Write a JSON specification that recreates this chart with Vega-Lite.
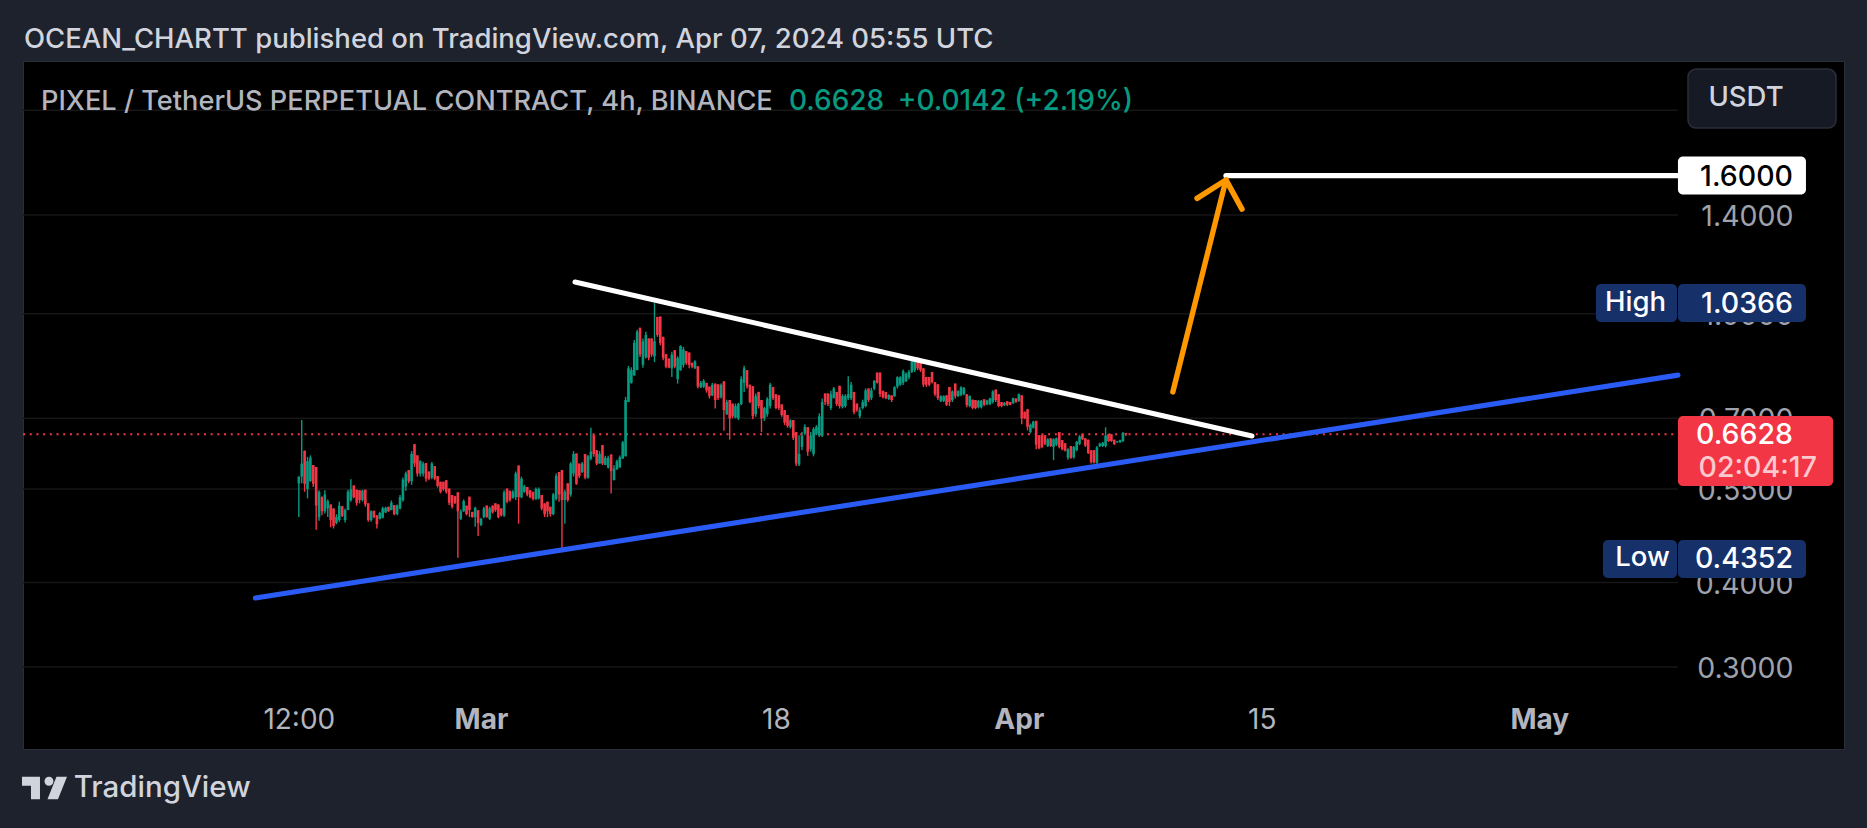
{"$schema":"https://vega.github.io/schema/vega-lite/v6.json","width":1821,"height":688,"autosize":"none","padding":{"left":23,"top":61,"right":23,"bottom":79},"background":"#1e222d","config":{"view":{"fill":"#000000","stroke":"#2a2e39"},"scale":{"continuousPadding":0},"text":{"font":"Inter"}},"title":{"text":"OCEAN_CHARTT published on TradingView.com, Apr 07, 2024 05:55 UTC","anchor":"start","frame":"group","offset":8,"dx":1,"font":"Inter","fontSize":27.5,"fontWeight":500,"color":"#d1d4dc"},"data":{"values":[
{"t":"2024-02-19T12:00Z","o":0.561,"h":0.574,"l":0.5,"c":0.574},{"t":"2024-02-19T16:00Z","o":0.574,"h":0.696,"l":0.561,"c":0.6},{"t":"2024-02-19T20:00Z","o":0.627,"h":0.627,"l":0.545,"c":0.56},
{"t":"2024-02-20T00:00Z","o":0.55,"h":0.614,"l":0.533,"c":0.605},{"t":"2024-02-20T04:00Z","o":0.565,"h":0.617,"l":0.564,"c":0.612},{"t":"2024-02-20T08:00Z","o":0.597,"h":0.597,"l":0.554,"c":0.56},{"t":"2024-02-20T12:00Z","o":0.593,"h":0.593,"l":0.479,"c":0.52},{"t":"2024-02-20T16:00Z","o":0.5,"h":0.548,"l":0.494,"c":0.545},{"t":"2024-02-20T20:00Z","o":0.535,"h":0.537,"l":0.503,"c":0.51},
{"t":"2024-02-21T00:00Z","o":0.51,"h":0.548,"l":0.506,"c":0.54},{"t":"2024-02-21T04:00Z","o":0.515,"h":0.531,"l":0.5,"c":0.528},{"t":"2024-02-21T08:00Z","o":0.522,"h":0.522,"l":0.483,"c":0.495},{"t":"2024-02-21T12:00Z","o":0.515,"h":0.515,"l":0.481,"c":0.485},{"t":"2024-02-21T16:00Z","o":0.49,"h":0.505,"l":0.488,"c":0.5},{"t":"2024-02-21T20:00Z","o":0.495,"h":0.527,"l":0.492,"c":0.52},
{"t":"2024-02-22T00:00Z","o":0.519,"h":0.519,"l":0.5,"c":0.502},{"t":"2024-02-22T04:00Z","o":0.495,"h":0.515,"l":0.491,"c":0.512},{"t":"2024-02-22T08:00Z","o":0.512,"h":0.549,"l":0.513,"c":0.545},{"t":"2024-02-22T12:00Z","o":0.53,"h":0.569,"l":0.527,"c":0.55},{"t":"2024-02-22T16:00Z","o":0.557,"h":0.557,"l":0.533,"c":0.535},{"t":"2024-02-22T20:00Z","o":0.549,"h":0.549,"l":0.52,"c":0.525},
{"t":"2024-02-23T00:00Z","o":0.548,"h":0.548,"l":0.524,"c":0.53},{"t":"2024-02-23T04:00Z","o":0.53,"h":0.549,"l":0.527,"c":0.547},{"t":"2024-02-23T08:00Z","o":0.549,"h":0.549,"l":0.518,"c":0.522},{"t":"2024-02-23T12:00Z","o":0.524,"h":0.524,"l":0.492,"c":0.495},{"t":"2024-02-23T16:00Z","o":0.495,"h":0.512,"l":0.492,"c":0.51},{"t":"2024-02-23T20:00Z","o":0.511,"h":0.511,"l":0.498,"c":0.5},
{"t":"2024-02-24T00:00Z","o":0.503,"h":0.503,"l":0.481,"c":0.488},{"t":"2024-02-24T04:00Z","o":0.497,"h":0.509,"l":0.496,"c":0.507},{"t":"2024-02-24T08:00Z","o":0.499,"h":0.518,"l":0.498,"c":0.515},{"t":"2024-02-24T12:00Z","o":0.508,"h":0.518,"l":0.507,"c":0.516},{"t":"2024-02-24T16:00Z","o":0.518,"h":0.518,"l":0.509,"c":0.51},{"t":"2024-02-24T20:00Z","o":0.512,"h":0.529,"l":0.512,"c":0.525},
{"t":"2024-02-25T00:00Z","o":0.521,"h":0.521,"l":0.503,"c":0.505},{"t":"2024-02-25T04:00Z","o":0.505,"h":0.522,"l":0.503,"c":0.52},{"t":"2024-02-25T08:00Z","o":0.515,"h":0.539,"l":0.513,"c":0.535},{"t":"2024-02-25T12:00Z","o":0.53,"h":0.572,"l":0.527,"c":0.568},{"t":"2024-02-25T16:00Z","o":0.555,"h":0.584,"l":0.547,"c":0.58},{"t":"2024-02-25T20:00Z","o":0.587,"h":0.587,"l":0.561,"c":0.565},
{"t":"2024-02-26T00:00Z","o":0.565,"h":0.626,"l":0.558,"c":0.62},{"t":"2024-02-26T04:00Z","o":0.641,"h":0.641,"l":0.593,"c":0.6},{"t":"2024-02-26T08:00Z","o":0.617,"h":0.617,"l":0.574,"c":0.58},{"t":"2024-02-26T12:00Z","o":0.58,"h":0.607,"l":0.574,"c":0.605},{"t":"2024-02-26T16:00Z","o":0.58,"h":0.604,"l":0.574,"c":0.6},{"t":"2024-02-26T20:00Z","o":0.601,"h":0.601,"l":0.564,"c":0.57},
{"t":"2024-02-27T00:00Z","o":0.584,"h":0.584,"l":0.567,"c":0.57},{"t":"2024-02-27T04:00Z","o":0.572,"h":0.603,"l":0.569,"c":0.6},{"t":"2024-02-27T08:00Z","o":0.595,"h":0.595,"l":0.567,"c":0.57},{"t":"2024-02-27T12:00Z","o":0.575,"h":0.575,"l":0.553,"c":0.556},{"t":"2024-02-27T16:00Z","o":0.564,"h":0.564,"l":0.542,"c":0.545},{"t":"2024-02-27T20:00Z","o":0.564,"h":0.564,"l":0.547,"c":0.55},
{"t":"2024-02-28T00:00Z","o":0.567,"h":0.567,"l":0.542,"c":0.545},{"t":"2024-02-28T04:00Z","o":0.551,"h":0.551,"l":0.521,"c":0.525},{"t":"2024-02-28T08:00Z","o":0.539,"h":0.539,"l":0.515,"c":0.518},{"t":"2024-02-28T12:00Z","o":0.537,"h":0.537,"l":0.523,"c":0.525},{"t":"2024-02-28T16:00Z","o":0.544,"h":0.544,"l":0.4352,"c":0.51},{"t":"2024-02-28T20:00Z","o":0.497,"h":0.513,"l":0.495,"c":0.51},
{"t":"2024-02-29T00:00Z","o":0.51,"h":0.531,"l":0.509,"c":0.528},{"t":"2024-02-29T04:00Z","o":0.52,"h":0.52,"l":0.503,"c":0.505},{"t":"2024-02-29T08:00Z","o":0.536,"h":0.536,"l":0.5,"c":0.512},{"t":"2024-02-29T12:00Z","o":0.509,"h":0.509,"l":0.499,"c":0.5},{"t":"2024-02-29T16:00Z","o":0.5,"h":0.518,"l":0.484,"c":0.516},{"t":"2024-02-29T20:00Z","o":0.512,"h":0.512,"l":0.469,"c":0.49},
{"t":"2024-03-01T00:00Z","o":0.487,"h":0.499,"l":0.485,"c":0.497},{"t":"2024-03-01T04:00Z","o":0.5,"h":0.518,"l":0.498,"c":0.515},{"t":"2024-03-01T08:00Z","o":0.52,"h":0.52,"l":0.499,"c":0.5},{"t":"2024-03-01T12:00Z","o":0.497,"h":0.518,"l":0.495,"c":0.515},{"t":"2024-03-01T16:00Z","o":0.52,"h":0.52,"l":0.506,"c":0.508},{"t":"2024-03-01T20:00Z","o":0.524,"h":0.524,"l":0.509,"c":0.512},
{"t":"2024-03-02T00:00Z","o":0.522,"h":0.522,"l":0.498,"c":0.5},{"t":"2024-03-02T04:00Z","o":0.515,"h":0.515,"l":0.501,"c":0.503},{"t":"2024-03-02T08:00Z","o":0.503,"h":0.548,"l":0.5,"c":0.544},{"t":"2024-03-02T12:00Z","o":0.551,"h":0.551,"l":0.524,"c":0.527},{"t":"2024-03-02T16:00Z","o":0.547,"h":0.547,"l":0.527,"c":0.53},{"t":"2024-03-02T20:00Z","o":0.533,"h":0.548,"l":0.533,"c":0.545},
{"t":"2024-03-03T00:00Z","o":0.535,"h":0.584,"l":0.53,"c":0.58},{"t":"2024-03-03T04:00Z","o":0.596,"h":0.596,"l":0.489,"c":0.535},{"t":"2024-03-03T08:00Z","o":0.535,"h":0.574,"l":0.533,"c":0.57},{"t":"2024-03-03T12:00Z","o":0.545,"h":0.558,"l":0.543,"c":0.555},{"t":"2024-03-03T16:00Z","o":0.554,"h":0.554,"l":0.537,"c":0.54},{"t":"2024-03-03T20:00Z","o":0.548,"h":0.548,"l":0.533,"c":0.535},
{"t":"2024-03-04T00:00Z","o":0.545,"h":0.545,"l":0.529,"c":0.532},{"t":"2024-03-04T04:00Z","o":0.532,"h":0.553,"l":0.53,"c":0.55},{"t":"2024-03-04T08:00Z","o":0.533,"h":0.553,"l":0.531,"c":0.55},{"t":"2024-03-04T12:00Z","o":0.539,"h":0.539,"l":0.512,"c":0.515},{"t":"2024-03-04T16:00Z","o":0.524,"h":0.524,"l":0.5,"c":0.505},{"t":"2024-03-04T20:00Z","o":0.527,"h":0.527,"l":0.5,"c":0.51},
{"t":"2024-03-05T00:00Z","o":0.518,"h":0.518,"l":0.501,"c":0.505},{"t":"2024-03-05T04:00Z","o":0.505,"h":0.543,"l":0.503,"c":0.54},{"t":"2024-03-05T08:00Z","o":0.532,"h":0.58,"l":0.529,"c":0.575},{"t":"2024-03-05T12:00Z","o":0.583,"h":0.583,"l":0.527,"c":0.54},{"t":"2024-03-05T16:00Z","o":0.587,"h":0.587,"l":0.446,"c":0.53},{"t":"2024-03-05T20:00Z","o":0.53,"h":0.549,"l":0.489,"c":0.545},
{"t":"2024-03-06T00:00Z","o":0.561,"h":0.561,"l":0.527,"c":0.53},{"t":"2024-03-06T04:00Z","o":0.54,"h":0.603,"l":0.536,"c":0.6},{"t":"2024-03-06T08:00Z","o":0.58,"h":0.626,"l":0.574,"c":0.62},{"t":"2024-03-06T12:00Z","o":0.621,"h":0.621,"l":0.558,"c":0.56},{"t":"2024-03-06T16:00Z","o":0.6,"h":0.6,"l":0.571,"c":0.575},{"t":"2024-03-06T20:00Z","o":0.583,"h":0.603,"l":0.581,"c":0.6},
{"t":"2024-03-07T00:00Z","o":0.62,"h":0.62,"l":0.569,"c":0.572},{"t":"2024-03-07T04:00Z","o":0.572,"h":0.618,"l":0.57,"c":0.615},{"t":"2024-03-07T08:00Z","o":0.61,"h":0.678,"l":0.607,"c":0.625},{"t":"2024-03-07T12:00Z","o":0.661,"h":0.661,"l":0.614,"c":0.62},{"t":"2024-03-07T16:00Z","o":0.628,"h":0.628,"l":0.597,"c":0.6},{"t":"2024-03-07T20:00Z","o":0.6,"h":0.626,"l":0.6,"c":0.62},
{"t":"2024-03-08T00:00Z","o":0.639,"h":0.639,"l":0.597,"c":0.6},{"t":"2024-03-08T04:00Z","o":0.597,"h":0.616,"l":0.597,"c":0.612},{"t":"2024-03-08T08:00Z","o":0.592,"h":0.616,"l":0.59,"c":0.612},{"t":"2024-03-08T12:00Z","o":0.619,"h":0.619,"l":0.542,"c":0.585},{"t":"2024-03-08T16:00Z","o":0.567,"h":0.597,"l":0.567,"c":0.59},{"t":"2024-03-08T20:00Z","o":0.588,"h":0.608,"l":0.588,"c":0.605},
{"t":"2024-03-09T00:00Z","o":0.592,"h":0.617,"l":0.592,"c":0.613},{"t":"2024-03-09T04:00Z","o":0.61,"h":0.648,"l":0.61,"c":0.645},{"t":"2024-03-09T08:00Z","o":0.615,"h":0.753,"l":0.615,"c":0.745},{"t":"2024-03-09T12:00Z","o":0.74,"h":0.837,"l":0.745,"c":0.83},{"t":"2024-03-09T16:00Z","o":0.79,"h":0.833,"l":0.788,"c":0.825},{"t":"2024-03-09T20:00Z","o":0.81,"h":0.914,"l":0.81,"c":0.905},
{"t":"2024-03-10T00:00Z","o":0.825,"h":0.947,"l":0.827,"c":0.94},{"t":"2024-03-10T04:00Z","o":0.953,"h":0.953,"l":0.863,"c":0.87},{"t":"2024-03-10T08:00Z","o":0.84,"h":0.919,"l":0.832,"c":0.91},{"t":"2024-03-10T12:00Z","o":0.862,"h":0.94,"l":0.858,"c":0.93},{"t":"2024-03-10T16:00Z","o":0.919,"h":0.919,"l":0.853,"c":0.86},{"t":"2024-03-10T20:00Z","o":0.919,"h":0.919,"l":0.863,"c":0.87},
{"t":"2024-03-11T00:00Z","o":0.865,"h":1.0366,"l":0.848,"c":0.91},{"t":"2024-03-11T04:00Z","o":0.989,"h":0.989,"l":0.924,"c":0.93},{"t":"2024-03-11T08:00Z","o":0.99,"h":0.99,"l":0.898,"c":0.905},{"t":"2024-03-11T12:00Z","o":0.924,"h":0.924,"l":0.853,"c":0.86},{"t":"2024-03-11T16:00Z","o":0.871,"h":0.871,"l":0.83,"c":0.835},{"t":"2024-03-11T20:00Z","o":0.858,"h":0.858,"l":0.83,"c":0.832},
{"t":"2024-03-12T00:00Z","o":0.83,"h":0.878,"l":0.806,"c":0.87},{"t":"2024-03-12T04:00Z","o":0.883,"h":0.883,"l":0.83,"c":0.835},{"t":"2024-03-12T08:00Z","o":0.8,"h":0.865,"l":0.788,"c":0.86},{"t":"2024-03-12T12:00Z","o":0.825,"h":0.898,"l":0.823,"c":0.895},{"t":"2024-03-12T16:00Z","o":0.84,"h":0.893,"l":0.832,"c":0.885},{"t":"2024-03-12T20:00Z","o":0.88,"h":0.88,"l":0.84,"c":0.845},
{"t":"2024-03-13T00:00Z","o":0.876,"h":0.876,"l":0.83,"c":0.84},{"t":"2024-03-13T04:00Z","o":0.846,"h":0.846,"l":0.83,"c":0.835},{"t":"2024-03-13T08:00Z","o":0.83,"h":0.853,"l":0.828,"c":0.85},{"t":"2024-03-13T12:00Z","o":0.836,"h":0.836,"l":0.775,"c":0.78},{"t":"2024-03-13T16:00Z","o":0.778,"h":0.795,"l":0.776,"c":0.79},{"t":"2024-03-13T20:00Z","o":0.78,"h":0.8,"l":0.776,"c":0.795},
{"t":"2024-03-14T00:00Z","o":0.79,"h":0.79,"l":0.764,"c":0.77},{"t":"2024-03-14T04:00Z","o":0.78,"h":0.78,"l":0.749,"c":0.755},{"t":"2024-03-14T08:00Z","o":0.757,"h":0.79,"l":0.755,"c":0.785},{"t":"2024-03-14T12:00Z","o":0.788,"h":0.788,"l":0.724,"c":0.745},{"t":"2024-03-14T16:00Z","o":0.786,"h":0.786,"l":0.745,"c":0.75},{"t":"2024-03-14T20:00Z","o":0.752,"h":0.788,"l":0.749,"c":0.785},
{"t":"2024-03-15T00:00Z","o":0.794,"h":0.794,"l":0.671,"c":0.72},{"t":"2024-03-15T04:00Z","o":0.71,"h":0.746,"l":0.708,"c":0.74},{"t":"2024-03-15T08:00Z","o":0.745,"h":0.745,"l":0.651,"c":0.7},{"t":"2024-03-15T12:00Z","o":0.736,"h":0.736,"l":0.7,"c":0.705},{"t":"2024-03-15T16:00Z","o":0.702,"h":0.736,"l":0.7,"c":0.73},{"t":"2024-03-15T20:00Z","o":0.7,"h":0.738,"l":0.696,"c":0.735},
{"t":"2024-03-16T00:00Z","o":0.735,"h":0.808,"l":0.732,"c":0.8},{"t":"2024-03-16T04:00Z","o":0.79,"h":0.837,"l":0.766,"c":0.83},{"t":"2024-03-16T08:00Z","o":0.825,"h":0.825,"l":0.775,"c":0.78},{"t":"2024-03-16T12:00Z","o":0.785,"h":0.785,"l":0.737,"c":0.74},{"t":"2024-03-16T16:00Z","o":0.781,"h":0.781,"l":0.698,"c":0.705},{"t":"2024-03-16T20:00Z","o":0.71,"h":0.762,"l":0.704,"c":0.755},
{"t":"2024-03-17T00:00Z","o":0.766,"h":0.766,"l":0.724,"c":0.73},{"t":"2024-03-17T04:00Z","o":0.745,"h":0.745,"l":0.668,"c":0.7},{"t":"2024-03-17T08:00Z","o":0.7,"h":0.728,"l":0.694,"c":0.725},{"t":"2024-03-17T12:00Z","o":0.71,"h":0.752,"l":0.704,"c":0.748},{"t":"2024-03-17T16:00Z","o":0.73,"h":0.79,"l":0.724,"c":0.785},{"t":"2024-03-17T20:00Z","o":0.779,"h":0.779,"l":0.745,"c":0.75},
{"t":"2024-03-18T00:00Z","o":0.76,"h":0.76,"l":0.722,"c":0.725},{"t":"2024-03-18T04:00Z","o":0.757,"h":0.757,"l":0.72,"c":0.725},{"t":"2024-03-18T08:00Z","o":0.734,"h":0.734,"l":0.704,"c":0.708},{"t":"2024-03-18T12:00Z","o":0.72,"h":0.72,"l":0.684,"c":0.69},{"t":"2024-03-18T16:00Z","o":0.708,"h":0.708,"l":0.678,"c":0.682},{"t":"2024-03-18T20:00Z","o":0.68,"h":0.698,"l":0.676,"c":0.695},
{"t":"2024-03-19T00:00Z","o":0.696,"h":0.696,"l":0.65,"c":0.655},{"t":"2024-03-19T04:00Z","o":0.668,"h":0.668,"l":0.595,"c":0.6},{"t":"2024-03-19T08:00Z","o":0.598,"h":0.661,"l":0.595,"c":0.62},{"t":"2024-03-19T12:00Z","o":0.635,"h":0.668,"l":0.628,"c":0.66},{"t":"2024-03-19T16:00Z","o":0.665,"h":0.686,"l":0.661,"c":0.68},{"t":"2024-03-19T20:00Z","o":0.679,"h":0.679,"l":0.616,"c":0.625},
{"t":"2024-03-20T00:00Z","o":0.63,"h":0.668,"l":0.625,"c":0.66},{"t":"2024-03-20T04:00Z","o":0.62,"h":0.679,"l":0.615,"c":0.675},{"t":"2024-03-20T08:00Z","o":0.665,"h":0.684,"l":0.661,"c":0.68},{"t":"2024-03-20T12:00Z","o":0.66,"h":0.712,"l":0.657,"c":0.705},{"t":"2024-03-20T16:00Z","o":0.66,"h":0.749,"l":0.657,"c":0.74},{"t":"2024-03-20T20:00Z","o":0.762,"h":0.762,"l":0.732,"c":0.74},
{"t":"2024-03-21T00:00Z","o":0.762,"h":0.762,"l":0.73,"c":0.735},{"t":"2024-03-21T04:00Z","o":0.725,"h":0.769,"l":0.72,"c":0.76},{"t":"2024-03-21T08:00Z","o":0.75,"h":0.779,"l":0.749,"c":0.775},{"t":"2024-03-21T12:00Z","o":0.766,"h":0.766,"l":0.73,"c":0.735},{"t":"2024-03-21T16:00Z","o":0.782,"h":0.782,"l":0.724,"c":0.73},{"t":"2024-03-21T20:00Z","o":0.728,"h":0.76,"l":0.724,"c":0.755},
{"t":"2024-03-22T00:00Z","o":0.73,"h":0.76,"l":0.726,"c":0.755},{"t":"2024-03-22T04:00Z","o":0.75,"h":0.808,"l":0.745,"c":0.76},{"t":"2024-03-22T08:00Z","o":0.75,"h":0.792,"l":0.745,"c":0.785},{"t":"2024-03-22T12:00Z","o":0.766,"h":0.766,"l":0.71,"c":0.715},{"t":"2024-03-22T16:00Z","o":0.736,"h":0.736,"l":0.716,"c":0.72},{"t":"2024-03-22T20:00Z","o":0.705,"h":0.727,"l":0.7,"c":0.72},
{"t":"2024-03-23T00:00Z","o":0.725,"h":0.746,"l":0.722,"c":0.74},{"t":"2024-03-23T04:00Z","o":0.73,"h":0.775,"l":0.727,"c":0.77},{"t":"2024-03-23T08:00Z","o":0.775,"h":0.775,"l":0.74,"c":0.745},{"t":"2024-03-23T12:00Z","o":0.75,"h":0.777,"l":0.745,"c":0.77},{"t":"2024-03-23T16:00Z","o":0.775,"h":0.798,"l":0.77,"c":0.795},{"t":"2024-03-23T20:00Z","o":0.818,"h":0.818,"l":0.788,"c":0.79},
{"t":"2024-03-24T00:00Z","o":0.818,"h":0.818,"l":0.753,"c":0.76},{"t":"2024-03-24T04:00Z","o":0.769,"h":0.769,"l":0.749,"c":0.752},{"t":"2024-03-24T08:00Z","o":0.766,"h":0.766,"l":0.747,"c":0.75},{"t":"2024-03-24T12:00Z","o":0.748,"h":0.76,"l":0.745,"c":0.758},{"t":"2024-03-24T16:00Z","o":0.757,"h":0.757,"l":0.74,"c":0.745},{"t":"2024-03-24T20:00Z","o":0.755,"h":0.781,"l":0.753,"c":0.778},
{"t":"2024-03-25T00:00Z","o":0.78,"h":0.808,"l":0.775,"c":0.805},{"t":"2024-03-25T04:00Z","o":0.785,"h":0.808,"l":0.782,"c":0.805},{"t":"2024-03-25T08:00Z","o":0.79,"h":0.827,"l":0.784,"c":0.822},{"t":"2024-03-25T12:00Z","o":0.795,"h":0.818,"l":0.792,"c":0.815},{"t":"2024-03-25T16:00Z","o":0.805,"h":0.825,"l":0.8,"c":0.82},{"t":"2024-03-25T20:00Z","o":0.82,"h":0.854,"l":0.817,"c":0.85},
{"t":"2024-03-26T00:00Z","o":0.825,"h":0.858,"l":0.82,"c":0.852},{"t":"2024-03-26T04:00Z","o":0.861,"h":0.861,"l":0.825,"c":0.83},{"t":"2024-03-26T08:00Z","o":0.851,"h":0.851,"l":0.82,"c":0.825},{"t":"2024-03-26T12:00Z","o":0.83,"h":0.83,"l":0.779,"c":0.785},{"t":"2024-03-26T16:00Z","o":0.806,"h":0.806,"l":0.779,"c":0.785},{"t":"2024-03-26T20:00Z","o":0.806,"h":0.806,"l":0.781,"c":0.785},
{"t":"2024-03-27T00:00Z","o":0.82,"h":0.82,"l":0.788,"c":0.792},{"t":"2024-03-27T04:00Z","o":0.792,"h":0.792,"l":0.755,"c":0.76},{"t":"2024-03-27T08:00Z","o":0.786,"h":0.786,"l":0.745,"c":0.75},{"t":"2024-03-27T12:00Z","o":0.742,"h":0.757,"l":0.74,"c":0.755},{"t":"2024-03-27T16:00Z","o":0.743,"h":0.757,"l":0.74,"c":0.755},{"t":"2024-03-27T20:00Z","o":0.757,"h":0.757,"l":0.73,"c":0.733},
{"t":"2024-03-28T00:00Z","o":0.779,"h":0.779,"l":0.73,"c":0.74},{"t":"2024-03-28T04:00Z","o":0.745,"h":0.77,"l":0.74,"c":0.767},{"t":"2024-03-28T08:00Z","o":0.788,"h":0.788,"l":0.749,"c":0.755},{"t":"2024-03-28T12:00Z","o":0.755,"h":0.77,"l":0.753,"c":0.768},{"t":"2024-03-28T16:00Z","o":0.758,"h":0.781,"l":0.755,"c":0.778},{"t":"2024-03-28T20:00Z","o":0.76,"h":0.779,"l":0.757,"c":0.776},
{"t":"2024-03-29T00:00Z","o":0.76,"h":0.76,"l":0.727,"c":0.732},{"t":"2024-03-29T04:00Z","o":0.73,"h":0.757,"l":0.727,"c":0.755},{"t":"2024-03-29T08:00Z","o":0.746,"h":0.746,"l":0.722,"c":0.725},{"t":"2024-03-29T12:00Z","o":0.745,"h":0.745,"l":0.722,"c":0.725},{"t":"2024-03-29T16:00Z","o":0.727,"h":0.745,"l":0.724,"c":0.743},{"t":"2024-03-29T20:00Z","o":0.727,"h":0.745,"l":0.724,"c":0.743},
{"t":"2024-03-30T00:00Z","o":0.747,"h":0.747,"l":0.73,"c":0.733},{"t":"2024-03-30T04:00Z","o":0.734,"h":0.746,"l":0.732,"c":0.744},{"t":"2024-03-30T08:00Z","o":0.735,"h":0.751,"l":0.732,"c":0.749},{"t":"2024-03-30T12:00Z","o":0.74,"h":0.77,"l":0.736,"c":0.767},{"t":"2024-03-30T16:00Z","o":0.772,"h":0.772,"l":0.74,"c":0.745},{"t":"2024-03-30T20:00Z","o":0.76,"h":0.76,"l":0.727,"c":0.73},
{"t":"2024-03-31T00:00Z","o":0.74,"h":0.74,"l":0.727,"c":0.73},{"t":"2024-03-31T04:00Z","o":0.732,"h":0.74,"l":0.73,"c":0.738},{"t":"2024-03-31T08:00Z","o":0.742,"h":0.742,"l":0.73,"c":0.733},{"t":"2024-03-31T12:00Z","o":0.74,"h":0.74,"l":0.732,"c":0.733},{"t":"2024-03-31T16:00Z","o":0.737,"h":0.751,"l":0.735,"c":0.75},{"t":"2024-03-31T20:00Z","o":0.749,"h":0.749,"l":0.738,"c":0.74},
{"t":"2024-04-01T00:00Z","o":0.743,"h":0.762,"l":0.74,"c":0.76},{"t":"2024-04-01T04:00Z","o":0.757,"h":0.757,"l":0.686,"c":0.7},{"t":"2024-04-01T08:00Z","o":0.716,"h":0.716,"l":0.698,"c":0.7},{"t":"2024-04-01T12:00Z","o":0.722,"h":0.722,"l":0.672,"c":0.68},{"t":"2024-04-01T16:00Z","o":0.668,"h":0.688,"l":0.665,"c":0.685},{"t":"2024-04-01T20:00Z","o":0.678,"h":0.694,"l":0.676,"c":0.692},
{"t":"2024-04-02T00:00Z","o":0.694,"h":0.694,"l":0.63,"c":0.64},{"t":"2024-04-02T04:00Z","o":0.661,"h":0.661,"l":0.63,"c":0.632},{"t":"2024-04-02T08:00Z","o":0.661,"h":0.661,"l":0.632,"c":0.635},{"t":"2024-04-02T12:00Z","o":0.661,"h":0.661,"l":0.639,"c":0.642},{"t":"2024-04-02T16:00Z","o":0.637,"h":0.654,"l":0.635,"c":0.652},{"t":"2024-04-02T20:00Z","o":0.654,"h":0.654,"l":0.635,"c":0.637},
{"t":"2024-04-03T00:00Z","o":0.635,"h":0.654,"l":0.607,"c":0.652},{"t":"2024-04-03T04:00Z","o":0.64,"h":0.656,"l":0.637,"c":0.654},{"t":"2024-04-03T08:00Z","o":0.668,"h":0.668,"l":0.632,"c":0.635},{"t":"2024-04-03T12:00Z","o":0.65,"h":0.65,"l":0.628,"c":0.63},{"t":"2024-04-03T16:00Z","o":0.643,"h":0.643,"l":0.625,"c":0.627},{"t":"2024-04-03T20:00Z","o":0.612,"h":0.632,"l":0.608,"c":0.63},
{"t":"2024-04-04T00:00Z","o":0.637,"h":0.637,"l":0.61,"c":0.612},{"t":"2024-04-04T04:00Z","o":0.613,"h":0.637,"l":0.61,"c":0.635},{"t":"2024-04-04T08:00Z","o":0.628,"h":0.648,"l":0.626,"c":0.646},{"t":"2024-04-04T12:00Z","o":0.642,"h":0.661,"l":0.639,"c":0.658},{"t":"2024-04-04T16:00Z","o":0.663,"h":0.663,"l":0.65,"c":0.652},{"t":"2024-04-04T20:00Z","o":0.654,"h":0.654,"l":0.635,"c":0.638},
{"t":"2024-04-05T00:00Z","o":0.651,"h":0.651,"l":0.62,"c":0.622},{"t":"2024-04-05T04:00Z","o":0.628,"h":0.628,"l":0.6,"c":0.603},{"t":"2024-04-05T08:00Z","o":0.628,"h":0.628,"l":0.6,"c":0.602},{"t":"2024-04-05T12:00Z","o":0.602,"h":0.637,"l":0.598,"c":0.634},{"t":"2024-04-05T16:00Z","o":0.637,"h":0.644,"l":0.635,"c":0.642},{"t":"2024-04-05T20:00Z","o":0.637,"h":0.646,"l":0.635,"c":0.644},
{"t":"2024-04-06T00:00Z","o":0.637,"h":0.679,"l":0.634,"c":0.66},{"t":"2024-04-06T04:00Z","o":0.663,"h":0.663,"l":0.646,"c":0.648},{"t":"2024-04-06T08:00Z","o":0.663,"h":0.663,"l":0.646,"c":0.648},{"t":"2024-04-06T12:00Z","o":0.651,"h":0.651,"l":0.639,"c":0.641},{"t":"2024-04-06T16:00Z","o":0.645,"h":0.648,"l":0.644,"c":0.647},{"t":"2024-04-06T20:00Z","o":0.645,"h":0.651,"l":0.644,"c":0.65},
{"t":"2024-04-07T00:00Z","o":0.648,"h":0.668,"l":0.646,"c":0.666},{"t":"2024-04-07T04:00Z","o":0.666,"h":0.666,"l":0.659,"c":0.6628}
]},
"layer":[
{"data":{"values":[{"g":0.3,"t":"2024-02-03T14:30Z","t2":"2024-05-08T23:45Z"},{"g":0.4,"t":"2024-02-03T14:30Z","t2":"2024-05-08T23:45Z"},{"g":0.55,"t":"2024-02-03T14:30Z","t2":"2024-05-08T23:45Z"},{"g":0.7,"t":"2024-02-03T14:30Z","t2":"2024-05-08T23:45Z"},{"g":1.0,"t":"2024-02-03T14:30Z","t2":"2024-05-08T23:45Z"},{"g":1.4,"t":"2024-02-03T14:30Z","t2":"2024-05-08T23:45Z"},{"g":2.0,"t":"2024-02-03T14:30Z","t2":"2024-05-08T23:45Z"}]},
"mark":{"type":"rule","color":"#161616","strokeWidth":1.5},
"encoding":{"x":{"field":"t","type":"temporal","scale":{"type":"utc","domain":[1706970444000,1716038784000],"nice":false,"padding":0},"axis":{"title":null,"values":[1708344000000,1709251200000,1710720000000,1711929600000,1713139200000,1714521600000],"labelExpr":"utcdate(datum.value)==1 ? utcFormat(datum.value,'%b') : (utchours(datum.value)==12 ? '12:00' : utcFormat(datum.value,'%d'))","labelFontWeight":{"condition":{"test":"utcdate(datum.value)==1","value":"bold"},"value":"normal"},"domain":false,"ticks":false,"grid":false,"offset":-29,"labelPadding":0,"labelBaseline":"middle","labelFont":"Inter","labelFontSize":28,"labelColor":"#b2b5be","labelOverlap":false,"labelFlush":false}},"x2":{"field":"t2"},
"y":{"field":"g","type":"quantitative","scale":{"type":"log","domain":[0.2269,2.365],"nice":false,"padding":0},"axis":{"title":null,"orient":"right","values":[0.3,0.4,0.55,0.7,1.0,1.4,2.0],"format":".4f","domain":false,"ticks":false,"grid":false,"offset":-166,"labelAlign":"right","labelPadding":115,"labelOffset":1.5,"labelFont":"Inter","labelFontSize":28.5,"labelColor":"#9ea2ac","labelOverlap":false,"labelFlush":false}}}},
{"data":{"values":[{"g":0.6628,"t":"2024-02-03T14:30Z","t2":"2024-05-08T23:45Z"}]},"mark":{"type":"rule","color":"#f23645","strokeWidth":2,"strokeDash":[2,4.7]},"encoding":{"x":{"field":"t","type":"temporal"},"x2":{"field":"t2"},"y":{"field":"g","type":"quantitative"}}},
{"mark":{"type":"rule","strokeWidth":1.4},"encoding":{"x":{"field":"t","type":"temporal"},"y":{"field":"h","type":"quantitative"},"y2":{"field":"l"},"color":{"condition":{"test":"datum.c>=datum.o","value":"#089981"},"value":"#f23645"}}},
{"mark":{"type":"bar","size":2.6},"encoding":{"x":{"field":"t","type":"temporal"},"y":{"field":"o","type":"quantitative"},"y2":{"field":"c"},"color":{"condition":{"test":"datum.c>=datum.o","value":"#089981"},"value":"#f23645"}}},
{"data":{"values":[{"n":"resistance","t":"2024-03-06T10:00Z","p":1.1137},{"n":"resistance","t":"2024-04-14T10:30Z","p":0.659},{"n":"support","t":"2024-02-17T00:00Z","p":0.3795},{"n":"support","t":"2024-05-08T23:45Z","p":0.811},{"n":"target","t":"2024-04-12T22:30Z","p":1.6},{"n":"target","t":"2024-05-08T23:45Z","p":1.6},{"n":"shaft","t":"2024-04-09T21:00Z","p":0.7657},{"n":"shaft","t":"2024-04-12T22:30Z","p":1.577},{"n":"head","t":"2024-04-11T06:30Z","p":1.481},{"n":"head","t":"2024-04-12T22:30Z","p":1.577},{"n":"head","t":"2024-04-13T20:40Z","p":1.428}]},
"mark":{"type":"line","strokeCap":"round","strokeJoin":"round"},
"encoding":{"x":{"field":"t","type":"temporal"},"y":{"field":"p","type":"quantitative"},"detail":{"field":"n"},"color":{"field":"n","type":"nominal","legend":null,"scale":{"domain":["resistance","support","target","shaft","head"],"range":["#ffffff","#2a5cf5","#ffffff","#ff9800","#ff9800"]}},"strokeWidth":{"field":"n","type":"nominal","legend":null,"scale":{"domain":["resistance","support","target","shaft","head"],"range":[5,5.5,6.5,4,4]}}}},
{"data":{"values":[{"n":"USD button","t":"2024-05-09T13:40Z","t2":"2024-05-18T02:24Z","p":2.301,"p2":1.882}]},
"mark":{"type":"rect","cornerRadius":8,"fill":"#161a25","stroke":"#2a2e39","strokeWidth":1.5},
"encoding":{"x":{"field":"t","type":"temporal"},"x2":{"field":"t2"},"y":{"field":"p","type":"quantitative"},"y2":{"field":"p2"}}},
{"data":{"values":[{"n":"target","t":"2024-05-08T23:45Z","t2":"2024-05-16T08:50Z","p":1.708,"p2":1.5005},{"n":"stat","t":"2024-05-04T06:20Z","t2":"2024-05-08T22:30Z","p":1.106,"p2":0.972},{"n":"stat","t":"2024-05-08T23:45Z","t2":"2024-05-16T08:50Z","p":1.106,"p2":0.972},{"n":"stat","t":"2024-05-04T16:00Z","t2":"2024-05-08T22:30Z","p":0.4624,"p2":0.4063},{"n":"stat","t":"2024-05-08T23:45Z","t2":"2024-05-16T08:50Z","p":0.4624,"p2":0.4063},{"n":"last","t":"2024-05-08T23:45Z","t2":"2024-05-17T22:20Z","p":0.7056,"p2":0.5558}]},
"mark":{"type":"rect","cornerRadius":5},
"encoding":{"x":{"field":"t","type":"temporal"},"x2":{"field":"t2"},"y":{"field":"p","type":"quantitative"},"y2":{"field":"p2"},"color":{"field":"n","type":"nominal","legend":null,"scale":{"domain":["target","stat","last"],"range":["#ffffff","#16306a","#f23645"]}}}},
{"data":{"values":[{"s":"PIXEL / TetherUS PERPETUAL CONTRACT, 4h, BINANCE","t":"2024-02-04T15:20Z","p":2.056}]},
"mark":{"type":"text","align":"left","baseline":"middle","font":"Inter","fontSize":27.2,"fontWeight":500,"color":"#b2b5be"},
"encoding":{"x":{"field":"t","type":"temporal"},"y":{"field":"p","type":"quantitative"},"text":{"field":"s"}}},
{"data":{"values":[{"s":"0.6628","t":"2024-03-18T18:00Z","p":2.056},{"s":"+0.0142 (+2.19%)","t":"2024-03-25T00:30Z","p":2.056}]},
"mark":{"type":"text","align":"left","baseline":"middle","font":"Inter","fontSize":28,"fontWeight":500,"color":"#089981"},
"encoding":{"x":{"field":"t","type":"temporal"},"y":{"field":"p","type":"quantitative"},"text":{"field":"s"}}},
{"data":{"values":[{"s":"USDT","k":"btn","t":"2024-05-10T18:00Z","p":2.085},{"s":"High","k":"white","t":"2024-05-04T19:00Z","p":1.0366},{"s":"Low","k":"white","t":"2024-05-05T09:00Z","p":0.4352}]},
"mark":{"type":"text","align":"left","baseline":"middle","font":"Inter","fontSize":27.5,"fontWeight":500},
"encoding":{"x":{"field":"t","type":"temporal"},"y":{"field":"p","type":"quantitative"},"text":{"field":"s"},"color":{"field":"k","type":"nominal","legend":null,"scale":{"domain":["btn","white"],"range":["#d1d4dc","#ffffff"]}}}},
{"data":{"values":[{"s":"TradingView","t":"2024-02-06T12:30Z","p":0.1987}]},
"mark":{"type":"text","align":"left","baseline":"middle","font":"Inter","fontSize":29.5,"fontWeight":500,"color":"#d1d4dc"},
"encoding":{"x":{"field":"t","type":"temporal"},"y":{"field":"p","type":"quantitative"},"text":{"field":"s"}}},
{"data":{"values":[{"s":"1.6000","k":"black","t":"2024-05-15T14:50Z","p":1.6},{"s":"1.0366","k":"white","t":"2024-05-15T14:50Z","p":1.0366},{"s":"0.4352","k":"white","t":"2024-05-15T14:50Z","p":0.4352},{"s":"0.6628","k":"white","t":"2024-05-15T14:50Z","p":0.6628},{"s":"02:04:17","k":"pale","t":"2024-05-17T00:00Z","p":0.593}]},
"mark":{"type":"text","align":"right","baseline":"middle","font":"Inter","fontSize":28.5,"fontWeight":500,"dy":1},
"encoding":{"x":{"field":"t","type":"temporal"},"y":{"field":"p","type":"quantitative"},"text":{"field":"s"},"color":{"field":"k","type":"nominal","legend":null,"scale":{"domain":["white","black","pale"],"range":["#ffffff","#000000","#fbc9ce"]}}}},
{"data":{"values":[{"n":"TradingView logo","t":"2024-02-04T20:10Z","p":0.1987}]},
"mark":{"type":"point","filled":true,"opacity":1,"color":"#d1d4dc","size":2025,"shape":"M-0.2 -0.5H-1V-0.1H-0.6V0.5H-0.2ZM0.6 0.5H0.133L0.533 -0.5H1ZM0.2 -0.1A0.2 0.2 0 1 0 0.2 -0.5A0.2 0.2 0 0 0 0.2 -0.1Z"},
"encoding":{"x":{"field":"t","type":"temporal"},"y":{"field":"p","type":"quantitative"}}}
],"resolve":{"scale":{"color":"independent","strokeWidth":"independent"}}}
